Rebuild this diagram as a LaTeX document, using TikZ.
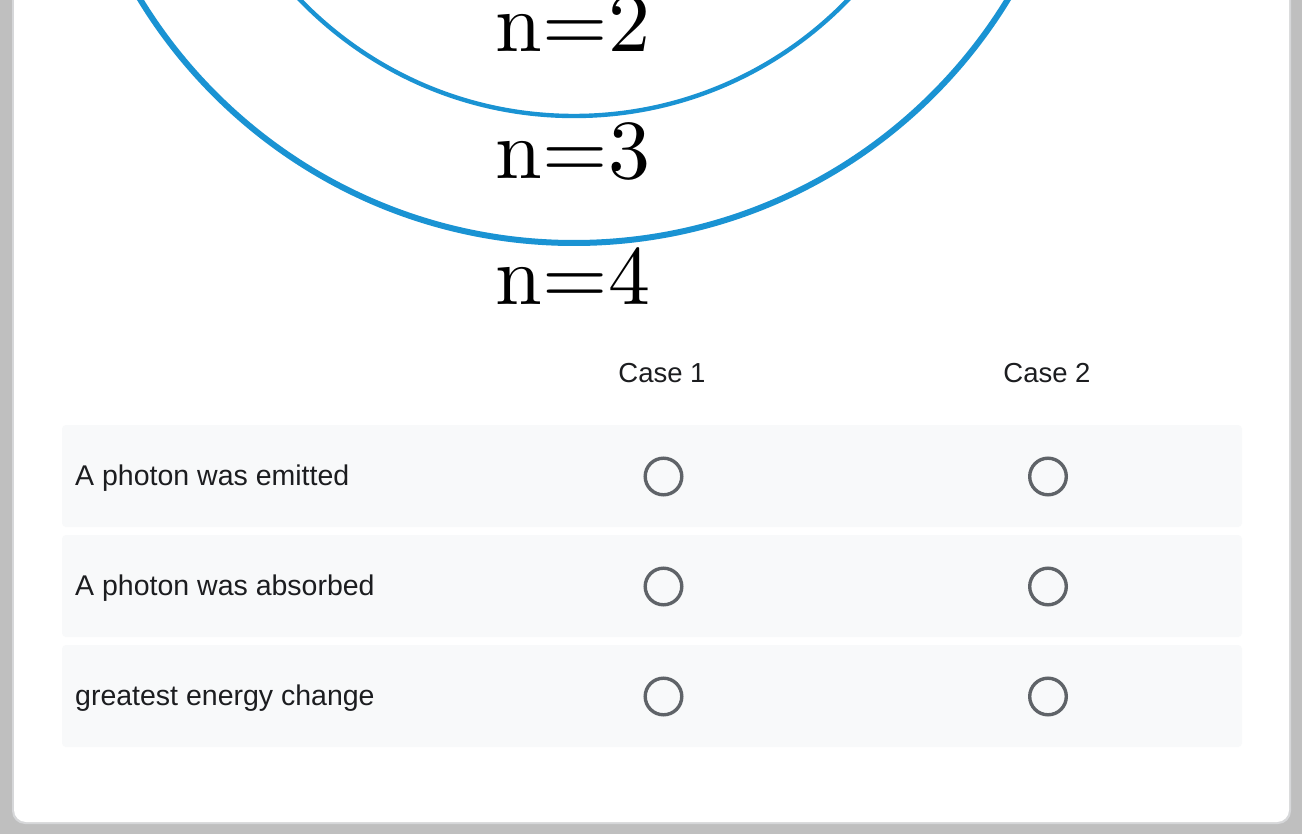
\documentclass[tikz,border=0pt]{standalone}
\usepackage{fontspec}
\newfontfamily\uifont{Liberation Sans}
\newfontfamily\cmten{lmroman10-regular}[Extension=.otf]
\definecolor{bggray}{HTML}{BFBFBF}
\definecolor{cardedge}{HTML}{D6D7D9}
\definecolor{orbit}{HTML}{1A93D3}
\definecolor{rowfill}{HTML}{F8F9FA}
\definecolor{radiogray}{HTML}{5F6368}
\definecolor{txt}{HTML}{1C1D20}
\tikzset{
  orbitline/.style={draw=orbit},
  level/.style={font=\cmten\fontsize{84}{92}\selectfont, anchor=base, inner sep=0pt},
  rowlabel/.style={font=\uifont\fontsize{28.5}{34}\selectfont, text=txt, anchor=base west, inner sep=0pt},
  colhead/.style={font=\uifont\fontsize{27.5}{33}\selectfont, text=txt, anchor=base, inner sep=0pt},
  radio/.style={circle, draw=radiogray, line width=3.4pt, minimum size=36.6pt, inner sep=0pt}
}
\begin{document}
\begin{tikzpicture}[x=1pt, y=-1pt]
\useasboundingbox (0,0) rectangle (1302,834);
\fill[bggray] (0,0) rectangle (1302,834);
% card
\fill[cardedge, rounded corners=13pt] (12,-30) rectangle (1291,824);
\fill[white, rounded corners=12pt] (14,-30) rectangle (1289,822);
% orbits
\begin{scope}
\clip (14,0) rectangle (1289,822);
\coordinate (nucleus) at (574,-265);
\draw[orbitline, line width=4.4pt] (nucleus) circle[radius=381];
\draw[orbitline, line width=6pt] (nucleus) circle[radius=508];
\end{scope}
% level labels
\node[level] (n2) at (573,52) {n=2};
\node[level] (n3) at (573,179) {n=3};
\node[level] (n4) at (573,305) {n=4};
% column headers
\node[colhead] (c1) at (662,383) {Case 1};
\node[colhead] (c2) at (1047,383) {Case 2};
% rows
\fill[rowfill, rounded corners=4pt] (62,425) rectangle (1242,527);
\fill[rowfill, rounded corners=4pt] (62,535) rectangle (1242,637);
\fill[rowfill, rounded corners=4pt] (62,645) rectangle (1242,747);
\node[rowlabel] (r1) at (75,485) {A photon was emitted};
\node[rowlabel] (r2) at (75,595) {A photon was absorbed};
\node[rowlabel] (r3) at (75,705) {greatest energy change};
% radios
\node[radio] (a1) at (663.5,476.5) {};
\node[radio] (b1) at (1048,476.5) {};
\node[radio] (a2) at (663.5,586.5) {};
\node[radio] (b2) at (1048,586.5) {};
\node[radio] (a3) at (663.5,696.5) {};
\node[radio] (b3) at (1048,696.5) {};
\end{tikzpicture}
\end{document}
